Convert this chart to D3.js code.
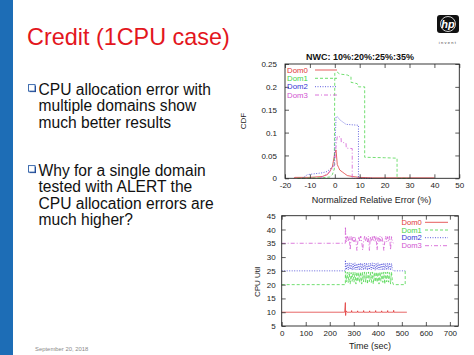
<!DOCTYPE html>
<html>
<head>
<meta charset="utf-8">
<script src="https://cdn.jsdelivr.net/npm/d3@7"></script>
<style>
  body { margin: 0; background: #fff; }
  svg { display: block; font-family: "Liberation Sans", Arial, Helvetica, sans-serif; }
</style>
</head>
<body>
<div id="slide"></div>
<script>
// ---- slide text ----
var titleText = "Credit (1CPU case)";
var bulletLines = [
    ["CPU allocation error with", "multiple domains show", "much better results"],
    ["Why for a single domain", "tested with ALERT the", "CPU allocation errors are", "much higher?"]
];
var dateText = "September 20, 2018";

// ---- chart data ----
var domains = ["Dom0", "Dom1", "Dom2", "Dom3"];
var errTitle = "NWC: 10%:20%:25%:35%";

// top plot: [normalized relative error (%), value]
var errDom0 = [[-16.5,0],[-16,0.002],[-10,0.002],[-5,0.004],[-3,0.008],[-2,0.015],[-1,0.025],[-0.5,0.04],[0,0.055],[0.5,0.062],[1,0.03],[1.5,0.024],[2,0.018],[3,0.014],[4,0.01],[5,0.006],[7,0.004],[10,0.002],[15,0.001],[40,0.001]];
var errDom1 = [[-15,0],[-5,0.001],[-2,0.003],[-1,0.008],[-0.2,0.02],[0,0.23],[1,0.232],[2,0.228],[5,0.226],[6.5,0.222],[6.5,0.21],[9,0.207],[9.5,0.2],[12,0.2],[12,0.046],[20,0.045],[25,0.044],[25,0],[30,0]];
var errDom2 = [[-13,0],[-11,0.008],[-8,0.01],[-5,0.012],[-3,0.015],[-2,0.02],[-1,0.025],[-0.3,0.03],[0,0.06],[0.5,0.134],[1,0.135],[2,0.128],[3,0.124],[4.5,0.118],[9.5,0.116],[9.5,0],[15,0]];
var errDom3 = [[-6,0],[-3,0.01],[-1,0.02],[0,0.03],[0.3,0.06],[1,0.092],[2.5,0.09],[2.6,0.079],[4.5,0.077],[4.6,0.066],[7,0.065],[7,0],[10,0]];
var errTicks = [-20, -10, 0, 10, 20, 30, 40, 50];
var cdfTicks = [0, 0.05, 0.1, 0.15, 0.2, 0.25];

// bottom plot: CPU util over time (sec)
var dom0Time = [0, 262, 265, 266, 268, 272, 290, 291, 292, 315, 316, 317, 340, 341, 342, 365, 366, 367, 390, 391, 392, 415, 416, 417, 440, 441, 442, 465, 466, 467, 521];
var dom0Util = [10, 10, 13.5, 8.8, 10.5, 10, 10, 10.6, 10, 10, 10.5, 10, 10, 10.6, 10, 10, 10.5, 10, 10, 10.6, 10, 10, 10.5, 10, 10, 10.6, 10, 10, 10.7, 10, 10];

var burstStart = 265, burstStep = 4;
var dom1Burst = [24.8, 21.0, 24.5, 20.8, 24.6, 20.2, 24.4, 21.2, 24.6, 20.9,
                 24.5, 20.2, 24.6, 21.1, 24.4, 20.8, 24.6, 20.2, 24.5, 21.0,
                 24.6, 20.9, 24.4, 20.2, 24.6, 21.1, 24.5, 20.8, 24.6, 20.2,
                 24.4, 21.0, 24.6, 20.9, 24.5, 20.2, 24.6, 21.2, 24.4, 20.8,
                 24.6, 20.2, 24.5, 21.0, 24.6, 20.9, 24.4, 20.2, 24.6, 21.0, 20.0];
var dom2Burst = [28.9, 25.4, 27.8, 25.3, 27.9, 25.5, 27.7, 25.2, 27.8, 25.4,
                 27.9, 25.3, 27.6, 25.5, 27.8, 25.2, 27.9, 25.4, 27.7, 25.3,
                 27.8, 25.5, 27.9, 25.2, 27.6, 25.4, 27.8, 25.3, 27.9, 25.5,
                 27.7, 25.2, 27.8, 25.4, 27.9, 25.3, 27.6, 25.5, 27.8, 25.2,
                 27.9, 25.4, 27.7, 25.3, 27.8, 25.5, 27.9, 25.2, 27.7, 25.4, 25.0];
var dom3Burst = [41.0, 35.4, 37.5, 35.6, 37.4, 32.6, 37.5, 35.7, 37.6, 35.5,
                 37.4, 35.6, 32.4, 35.7, 37.5, 35.5, 37.6, 35.6, 32.5, 35.7,
                 37.5, 35.6, 37.4, 35.5, 37.6, 32.4, 37.5, 35.6, 37.4, 35.7,
                 37.6, 35.5, 37.5, 32.5, 37.4, 35.6, 37.6, 35.7, 37.5, 35.5,
                 32.4, 35.6, 37.6, 35.5, 37.4, 35.7, 37.5, 32.6, 37.4, 35.6, 35.0];
var dom1Idle = [[0, 20], [265, 20]];
var dom2Idle = [[0, 25], [265, 25]];
var dom3Idle = [[0, 35], [265, 35]];
var dom1Tail = [[465, 20], [514, 20], [514, 25]];
var dom2Tail = [[465, 25], [514, 25]];
var dom3Tail = [[465, 35]];
var timeTicks = [0, 100, 200, 300, 400, 500, 600, 700];
var utilTicks = [5, 10, 15, 20, 25, 30, 35, 40, 45];

// ---- styles ----
var colors = ["#e03434", "#44d444", "#3434d4", "#d052d0"];
var dashes = [null, "3,2", "1,1.5", "4,2,1,2"];

var svg = d3.select("#slide").append("svg")
    .attr("width", 474)
    .attr("height", 355);

svg.append("rect").attr("width", 474).attr("height", 355).attr("fill", "#fff");

// left blue band
svg.append("rect")
    .attr("x", 0).attr("y", 0)
    .attr("width", 13).attr("height", 355)
    .attr("fill", "#1d6db6");

// title
svg.append("text")
    .attr("x", 27).attr("y", 45)
    .attr("fill", "#e3161d")
    .style("font-size", "23.4px")
    .text(titleText);

// hp logo
var logo = svg.append("g");
logo.append("rect")
    .attr("x", 437).attr("y", 15).attr("width", 22).attr("height", 18).attr("rx", 3)
    .attr("fill", "#111");
logo.append("circle")
    .attr("cx", 448).attr("cy", 24).attr("r", 7.5)
    .attr("fill", "none").attr("stroke", "#fff").attr("stroke-width", 0.8);
logo.append("text")
    .attr("x", 448).attr("y", 28)
    .attr("text-anchor", "middle")
    .attr("fill", "#fff")
    .style("font-size", "11px").style("font-style", "italic").style("font-weight", "bold")
    .text("hp");
logo.append("text")
    .attr("x", 448).attr("y", 44)
    .attr("text-anchor", "middle")
    .attr("fill", "#444")
    .style("font-size", "4px").style("letter-spacing", "1.3px")
    .text("invent");

// bullets
var bulletTop = [94.6, 175.6];
var lineGap = 16.5;
bulletLines.forEach(function (lines, b) {
    var y0 = bulletTop[b];
    svg.append("rect")
        .attr("x", 29.5).attr("y", y0 - 9).attr("width", 6.5).attr("height", 6.5)
        .attr("fill", "#1f3f8a");
    svg.append("rect")
        .attr("x", 28.5).attr("y", y0 - 10).attr("width", 6.5).attr("height", 6.5)
        .attr("fill", "#fff").attr("stroke", "#2d5fa8").attr("stroke-width", 0.9);
    lines.forEach(function (t, i) {
        svg.append("text")
            .attr("x", 38.5).attr("y", y0 + i * lineGap)
            .attr("fill", "#111")
            .style("font-size", "15.6px")
            .text(t);
    });
});

// footer date
svg.append("text")
    .attr("x", 35).attr("y", 351)
    .attr("fill", "#8a8a8a")
    .style("font-size", "5.9px")
    .text(dateText);

// ---------- helper to draw gnuplot-like frame ----------
function frame(x, y, xt, yt, xfmt, yfmt, pad) {
    var g = svg.append("g").attr("class", "frame");
    var x0 = x.range()[0], x1 = x.range()[1], y0 = y.range()[0], y1 = y.range()[1];
    g.append("g").attr("transform", "translate(0," + y0 + ")")
        .call(d3.axisBottom(x).tickValues(xt).tickSizeInner(-4).tickSizeOuter(0).tickPadding(4).tickFormat(xfmt));
    g.append("g").attr("transform", "translate(0," + y1 + ")")
        .call(d3.axisTop(x).tickValues(xt).tickSizeInner(-4).tickSizeOuter(0).tickFormat(""));
    g.append("g").attr("transform", "translate(" + x0 + ",0)")
        .call(d3.axisLeft(y).tickValues(yt).tickSizeInner(-4).tickSizeOuter(0).tickPadding(pad).tickFormat(yfmt));
    g.append("g").attr("transform", "translate(" + x1 + ",0)")
        .call(d3.axisRight(y).tickValues(yt).tickSizeInner(-4).tickSizeOuter(0).tickFormat(""));
    g.selectAll(".domain").remove();
    g.selectAll(".tick line").attr("stroke", "#333").attr("stroke-width", 0.8);
    g.selectAll(".tick text").attr("fill", "#222")
        .style("font-size", "8px").style("font-family", "'Liberation Sans', Arial, sans-serif");
    g.append("rect")
        .attr("x", x0).attr("y", y1)
        .attr("width", x1 - x0).attr("height", y0 - y1)
        .attr("fill", "none").attr("stroke", "#222").attr("stroke-width", 0.9);
}

// ---------- top plot ----------
var xErr = d3.scaleLinear().domain([-20, 50]).range([285, 459.3]);
var yErr = d3.scaleLinear().domain([0, 0.25]).range([178.3, 64]);

var errLine = d3.line()
    .x(function (d) { return xErr(d[0]); })
    .y(function (d) { return yErr(d[1]); });

[errDom0, errDom1, errDom2, errDom3].forEach(function (s, i) {
    svg.append("path")
        .datum(s)
        .attr("d", errLine)
        .attr("fill", "none")
        .attr("stroke", colors[i])
        .attr("stroke-width", 0.75)
        .attr("stroke-dasharray", dashes[i]);
});

frame(xErr, yErr, errTicks, cdfTicks, function (d) { return d; }, function (d) { return d; }, 8);

svg.append("text")
    .attr("x", 360).attr("y", 60)
    .attr("text-anchor", "middle")
    .attr("fill", "#111")
    .style("font-size", "9px").style("font-weight", "bold")
    .text(errTitle);

svg.append("text")
    .attr("x", 371.5).attr("y", 203)
    .attr("text-anchor", "middle")
    .attr("fill", "#222")
    .style("font-size", "9px")
    .text("Normalized Relative Error (%)");

svg.append("text")
    .attr("transform", "translate(246,121) rotate(-90)")
    .attr("text-anchor", "middle")
    .attr("fill", "#222")
    .style("font-size", "8px")
    .text("CDF");

// top legend
var legTopY = [70, 78.3, 86.7, 95];
domains.forEach(function (d, i) {
    svg.append("text")
        .attr("x", 287).attr("y", legTopY[i]).attr("dy", "0.35em")
        .attr("fill", colors[i])
        .style("font-size", "7.8px")
        .text(d);
    svg.append("line")
        .attr("x1", 315).attr("x2", 337)
        .attr("y1", legTopY[i]).attr("y2", legTopY[i])
        .attr("stroke", colors[i]).attr("stroke-width", 0.8)
        .attr("stroke-dasharray", dashes[i]);
});

// ---------- bottom plot ----------
var xTime = d3.scaleLinear().domain([0, 735]).range([281.7, 458.3]);
var yUtil = d3.scaleLinear().domain([5, 45]).range([326, 215.7]);

function burstPoints(vals) {
    return vals.map(function (v, i) { return [burstStart + i * burstStep, v]; });
}

var utilSeries = [
    dom0Time.map(function (t, i) { return [t, dom0Util[i]]; }),
    dom1Idle.concat(burstPoints(dom1Burst), dom1Tail),
    dom2Idle.concat(burstPoints(dom2Burst), dom2Tail),
    dom3Idle.concat(burstPoints(dom3Burst), dom3Tail)
];

var utilLine = d3.line()
    .x(function (d) { return xTime(d[0]); })
    .y(function (d) { return yUtil(d[1]); });

// draw back to front so that Dom0 sits on top
[3, 2, 1, 0].forEach(function (i) {
    svg.append("path")
        .datum(utilSeries[i])
        .attr("d", utilLine)
        .attr("fill", "none")
        .attr("stroke", colors[i])
        .attr("stroke-width", 0.75)
        .attr("stroke-dasharray", dashes[i]);
});

frame(xTime, yUtil, timeTicks, utilTicks, function (d) { return d; }, function (d) { return d; }, 6);

svg.append("text")
    .attr("x", 370).attr("y", 349)
    .attr("text-anchor", "middle")
    .attr("fill", "#222")
    .style("font-size", "9px")
    .text("Time (sec)");

svg.append("text")
    .attr("transform", "translate(260,281.7) rotate(-90)")
    .attr("text-anchor", "middle")
    .attr("fill", "#222")
    .style("font-size", "8px")
    .text("CPU Util");

// bottom legend
var legBotY = [222.3, 230, 237.7, 245.7];
domains.forEach(function (d, i) {
    svg.append("text")
        .attr("x", 421.7).attr("y", legBotY[i]).attr("dy", "0.35em")
        .attr("text-anchor", "end")
        .attr("fill", colors[i])
        .style("font-size", "7.6px")
        .text(d);
    svg.append("line")
        .attr("x1", 425).attr("x2", 448)
        .attr("y1", legBotY[i]).attr("y2", legBotY[i])
        .attr("stroke", colors[i]).attr("stroke-width", 0.8)
        .attr("stroke-dasharray", dashes[i]);
});
</script>
</body>
</html>
